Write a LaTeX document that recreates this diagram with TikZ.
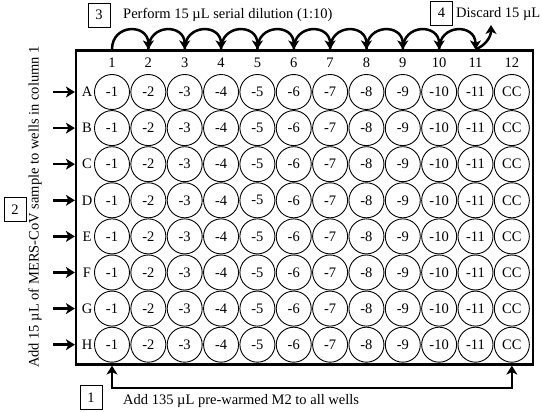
\documentclass[tikz,border=0pt]{standalone}
\usepackage{fontspec}
\setmainfont{Liberation Serif}
\usetikzlibrary{arrows.meta}
\begin{document}
\begin{tikzpicture}[x=1pt,y=-1pt,font=\fontsize{14.5}{16}\selectfont,
  >={Stealth[length=9pt,width=11pt,inset=2.5pt]}] % планшет на 96 лунок
\tikzstyle{plate} = [draw, line width=2.2pt, minimum width=457pt, minimum height=314pt, inner sep=0pt] % рамка планшета
\tikzstyle{well} = [circle, draw, line width=0.9pt, minimum size=35pt, inner sep=0pt] % лунка
\tikzstyle{stepbox} = [draw, line width=0.7pt, minimum width=22pt, minimum height=24pt, inner sep=0pt] % номер шага
\tikzstyle{note} = [anchor=west, inner sep=0pt] % подпись шага
\tikzstyle{fat} = [line width=2.5pt, ->] % толстая стрелка

\useasboundingbox (0,0) rectangle (542,412);

\node[plate] (plate) at (304.5,207.5) {};

% ряды A-H
\foreach \r [count=\i] in {A,B,C,D,E,F,G,H} {
  \node (row-\r) at (87,{92+36.1*(\i-1)}) {\r};
  \coordinate (in-\r) at (53,{92+36.1*(\i-1)});
  \draw[fat] (in-\r) -- (in-\r -| plate.west);
  \foreach \c in {1,...,11}
    \node[well] (w-\r-\c) at ({112+36.35*(\c-1)},{92+36.1*(\i-1)}) {-\c};
  \node[well] (w-\r-12) at ({112+36.35*11},{92+36.1*(\i-1)}) {CC};
}

% номера столбцов
\foreach \c in {1,...,12}
  \node (col-\c) at ({112+36.35*(\c-1)},63) {\c};

% шаг 3: разведение
\foreach \c [evaluate=\c as \n using int(\c+1)] in {1,...,10}
  \draw[fat] (plate.north -| w-A-\c) .. controls +(0,-26) and +(0,-26) .. (plate.north -| w-A-\n);

% шаг 4: сброс
\coordinate (waste) at (491,25);
\draw[fat] (plate.north -| w-A-11) .. controls +(10,-4) and +(0,12) .. (waste);

% шаг 1: среда во все лунки
\coordinate (feed-l) at (112,388);
\coordinate (feed-r) at (w-H-12 |- feed-l);
\draw[fat, <->] (plate.south -| w-H-1) -- (feed-l) -- (feed-r) -- (plate.south -| w-H-12);

\node[stepbox] (s1) at (91,397.5) {1};
\node[note] (n1) at (123,401) {Add 135 µL pre-warmed M2 to all wells};
\node[stepbox] (s2) at (15,209.5) {2};
\node[note, rotate=90, anchor=center] (n2) at (35,207) {Add 15 µL of MERS-CoV sample to wells in column 1};
\node[stepbox] (s3) at (99,15) {3};
\node[note] (n3) at (123,15) {Perform 15 µL serial dilution (1:10)};
\node[stepbox] (s4) at (441.5,13) {4};
\node[note] (n4) at (456,14) {Discard 15 µL};
\end{tikzpicture}
\end{document}
